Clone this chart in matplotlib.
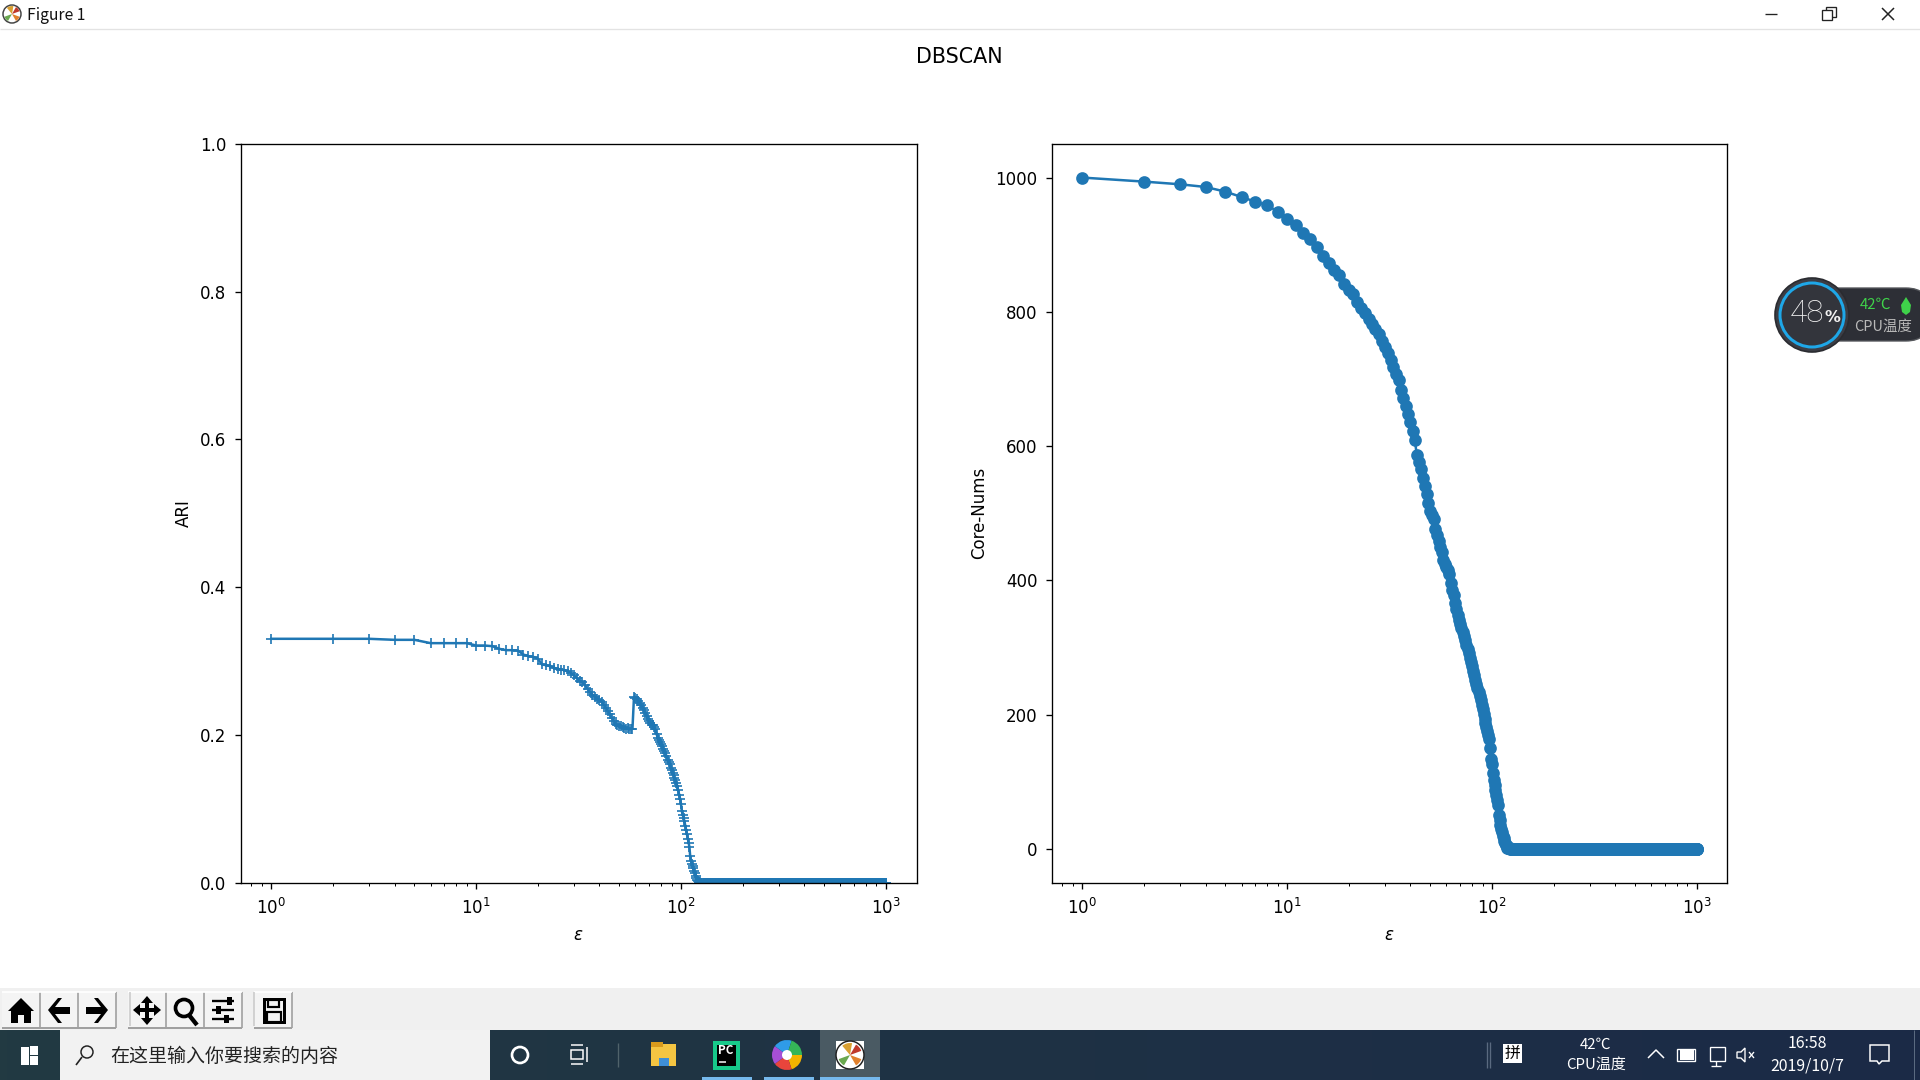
import numpy as np
import matplotlib
matplotlib.use("Agg")
import matplotlib.pyplot as plt
from matplotlib.patches import Rectangle, Circle, Polygon, FancyBboxPatch, Wedge

CJK = ['Noto Sans CJK SC', 'DejaVu Sans']

title = "DBSCAN"
x_label = r"$\epsilon$"
left_label = "ARI"
right_label = "Core-Nums"

# ARI for eps = 1, 2, 3, ...
ari_head = [
    .330, .330, .330, .3286, .3286, .3241, .3241, .3241, .3241, .3209,
    .3209, .3200, .3164, .3146, .3146, .3141, .3087, .3065, .3056, .3033,
    .2952, .2943, .2929, .2907, .2893, .2884, .2875, .2861, .2839, .2803,
    .2771, .2735, .2713, .2676, .2622, .2577, .2545, .2514, .2487, .2469,
    .2442, .2410, .2365, .2320, .2275, .2230, .2184, .2153, .2126, .2117,
    .2117, .2108, .2094, .2081, .2094, .2072, .2081, .2081, .2514, .2500,
    .2487, .2455, .2424, .2397, .2365, .2333, .2297, .2252, .2216, .2184,
    .2162, .2139, .2126, .2108, .2072, .2013, .1959, .1923, .1900, .1873,
    .1846, .1814, .1787, .1756, .1710, .1665, .1634, .1598, .1552, .1521,
    .1485, .1453, .1417, .1385, .1349, .1304, .1250, .1191, .1137, .1069,
    .0966, .0920, .0875, .0830, .0771, .0717, .0650, .0591, .0537, .0483,
    .0356, .0288, .0257, .0221, .0194, .0162, .0131, .0094, .0067, .0040,
    .0018, .0005,
]
# Core point counts for eps = 1, 2, 3, ...
core_head = [
    1000, 994, 990, 986, 979, 971, 964, 959, 949, 938,
    930, 917, 908, 897, 883, 873, 862, 855, 842, 833,
    826, 815, 806, 798, 790, 782, 775, 767, 757, 748,
    738, 728, 718, 708, 698, 684, 672, 660, 648, 636,
    622, 609, 587, 577, 566, 552, 541, 528, 516, 504,
    497, 491, 477, 468, 458, 449, 442, 430, 425, 420,
    415, 410, 396, 385, 378, 366, 357, 349, 341, 335,
    329, 323, 317, 311, 304, 298, 292, 285, 278, 272,
    265, 259, 252, 246, 240, 234, 228, 222, 215, 208,
    201, 194, 187, 181, 175, 169, 163, 150, 134, 127,
    113, 103, 95, 88, 80, 73, 66, 50, 43, 36,
    30, 25, 20, 16, 12, 9, 6, 4, 2, 1, 1, 1,
]
eps_last = 1000
epsilons = list(range(1, eps_last + 1))
ari = ari_head + [0.0] * (eps_last - len(ari_head))
core = core_head + [0] * (eps_last - len(core_head))

W, H = 1920, 1080
fig = plt.figure(figsize=(16, 9), dpi=120, facecolor='white')


def axpos(l, r, t, b):
    return [l / W, 1 - b / H, (r - l) / W, (b - t) / H]


ax1 = fig.add_axes(axpos(240.5, 916.5, 144, 882.5))
ax1.plot(epsilons, ari, marker='+')
ax1.set_xscale('log')
ax1.set_ylim(0, 1)
ax1.set_xlabel(x_label, labelpad=5)
ax1.set_ylabel(left_label)

ax2 = fig.add_axes(axpos(1051.5, 1727.5, 144, 882.5))
ax2.plot(epsilons, core, marker='o', markersize=6.6)
ax2.set_xscale('log')
ax2.set_xlabel(x_label, labelpad=5)
ax2.set_ylabel(right_label)

for a in (ax1, ax2):
    a.tick_params(axis='y', which='major', pad=5)
    a.tick_params(axis='x', which='major', pad=5.5)

fig.text(959 / W, 1 - 57 / H, title, ha='center', va='center', fontsize=12.4)

# ---- window chrome drawn on a full-figure overlay in pixel coordinates ----
ov = fig.add_axes([0, 0, 1, 1], zorder=5)
ov.set_xlim(0, W)
ov.set_ylim(H, 0)
ov.axis('off')
ov.patch.set_alpha(0)


def rect(x, y, w, h, c, **k):
    ov.add_patch(Rectangle((x, y), w, h, facecolor=c, edgecolor=k.pop('ec', 'none'), **k))


def poly(pts, c='black', **k):
    ov.add_patch(Polygon(pts, closed=True, facecolor=c, edgecolor=k.pop('ec', 'none'), **k))


def line(xs, ys, c='black', lw=1.0):
    ov.plot(xs, ys, color=c, lw=lw, solid_capstyle='butt')


def txt(x, y, s, size=9, c='black', **k):
    ov.text(x, y, s, fontsize=size, color=c, ha=k.pop('ha', 'center'), va='center',
            family=CJK, **k)


# title bar
line([0, W], [29, 29], '#e3e3e3', 0.8)
ov.add_patch(Circle((12, 14), 9, facecolor='white', edgecolor='#444444', lw=0.9))
for a1, a2, col in [(20, 60, '#e0802c'), (120, 160, '#6aa84f'), (230, 280, '#d9a032'), (300, 340, '#c0392b')]:
    ov.add_patch(Wedge((12, 14), 8, a1, a2, facecolor=col))
txt(27, 15, "Figure 1", 9.4, '#111111', ha='left')
line([1765, 1777], [14, 14], '#222222', 0.8)
rect(1826, 7, 10, 10, 'none', ec='#222222', lw=0.8)
rect(1822, 10, 10, 10, 'white', ec='#222222', lw=0.8)
line([1882, 1894], [8, 20], '#222222', 0.9)
line([1882, 1894], [20, 8], '#222222', 0.9)

# toolbar
rect(0, 988, W, 42, '#f0f0f0')
for bx in [21, 59, 97, 147, 185, 223, 273]:
    rect(bx - 19, 992, 38, 36, '#f4f4f4', ec='none')
    line([bx - 19, bx + 19], [1028, 1028], '#a0a0a0', 1.2)
    line([bx + 19, bx + 19], [992, 1028], '#a0a0a0', 1.0)
    line([bx - 19, bx + 19], [992, 992], '#ffffff', 1.0)
line([130, 130], [992, 1026], '#c8c8c8', 0.9)
line([254, 254], [992, 1026], '#c8c8c8', 0.9)
# home
poly([(21, 998), (34, 1011), (31, 1011), (31, 1023), (24, 1023), (24, 1015), (18, 1015), (18, 1023),
      (11, 1023), (11, 1011), (8, 1011)])
# back / forward
poly([(48, 1010), (58, 998), (62, 998), (55, 1007), (70, 1007), (70, 1014), (55, 1014), (62, 1023), (58, 1023)])
poly([(108, 1010), (98, 998), (94, 998), (101, 1007), (86, 1007), (86, 1014), (101, 1014), (94, 1023), (98, 1023)])
# pan
poly([(147, 996), (153, 1003), (149, 1003), (149, 1008), (154, 1008), (154, 1004), (161, 1010), (154, 1016),
      (154, 1012), (149, 1012), (149, 1018), (153, 1018), (147, 1025), (141, 1018), (145, 1018), (145, 1012),
      (140, 1012), (140, 1016), (133, 1010), (140, 1004), (140, 1008), (145, 1008), (145, 1003), (141, 1003)])
# zoom
ov.add_patch(Circle((184, 1008), 8.5, facecolor='none', edgecolor='black', lw=2.2))
line([189, 197], [1015, 1025], 'black', 2.6)
# sliders
for yy, xk in [(1001, 229), (1010, 218), (1019, 226)]:
    line([212, 234], [yy, yy], 'black', 1.4)
    rect(xk - 2.5, yy - 4, 5, 8, 'black')
# save
rect(264, 999, 20, 23, 'none', ec='black', lw=1.8)
rect(268, 1000, 11, 7, 'none', ec='black', lw=1.3)
rect(267, 1012, 14, 10, 'none', ec='black', lw=1.3)

# taskbar
grad = np.linspace(0, 1, 256)[None, :, None]
c0 = np.array([0x22, 0x3a, 0x42]) / 255
c1 = np.array([0x1b, 0x2a, 0x47]) / 255
ov.imshow(c0 + (c1 - c0) * grad, extent=(0, W, 1080, 1030), aspect='auto', zorder=0.5)
ov.set_xlim(0, W)
ov.set_ylim(H, 0)
for (lx, ly) in [(21, 1047), (30, 1046), (21, 1056), (30, 1056)]:
    rect(lx, ly, 8, 8.5, 'white')
rect(60, 1030, 430, 50, '#f2f2f2')
ov.add_patch(Circle((87, 1052), 6, facecolor='none', edgecolor='#222222', lw=0.9))
line([82, 76], [1057, 1065], '#222222', 1.0)
txt(110, 1056, "在这里输入你要搜索的内容", 11.4, '#222222', ha='left')
ov.add_patch(Circle((520, 1055), 8, facecolor='none', edgecolor='white', lw=1.6))
rect(571, 1050, 12, 9, 'none', ec='white', lw=0.9)
line([571, 583], [1045, 1045], 'white', 0.9)
line([571, 583], [1064, 1064], 'white', 0.9)
line([587, 587], [1047, 1062], 'white', 0.9)
line([618, 618], [1043, 1067], '#50636b', 0.8)
# folder
rect(651, 1044, 25, 22, '#f5c542')
rect(651, 1042, 12, 5, '#d99a1c')
rect(659, 1058, 10, 8, '#3f8fd6')
# PC icon
rect(713, 1041, 27, 29, '#17c98a')
rect(717, 1045, 19, 21, '#000000')
txt(726, 1051, "PC", 7, 'white', fontweight='bold')
line([719, 726], [1062, 1062], 'white', 0.9)
# colour wheel
for a1, a2, col in [(0, 72, '#f4b400'), (72, 144, '#e8453c'), (144, 216, '#a64fd6'),
                    (216, 288, '#2f9be8'), (288, 360, '#35b558')]:
    ov.add_patch(Wedge((787, 1055), 15, a1, a2, facecolor=col))
ov.add_patch(Circle((787, 1055), 5, facecolor='white'))
# active app
rect(820, 1030, 60, 50, '#4a5a63', zorder=1)
rect(836, 1041, 28, 28, 'white', zorder=2)
ov.add_patch(Circle((850, 1055), 14, facecolor='white', edgecolor='#222222', lw=0.9, zorder=2))
for a1, a2, col in [(20, 60, '#e0802c'), (120, 160, '#6aa84f'), (230, 280, '#d9a032'), (300, 340, '#c0392b')]:
    ov.add_patch(Wedge((850, 1055), 12, a1, a2, facecolor=col, zorder=3))
for bx, bw in [(702, 50), (764, 50), (820, 60)]:
    rect(bx, 1077, bw, 3, '#76b9ed', zorder=4)
# tray
line([1487, 1487], [1042, 1068], '#5a6a80', 0.8)
line([1490, 1490], [1042, 1068], '#5a6a80', 0.8)
rect(1503, 1044, 19, 19, 'white')
txt(1512.5, 1053.5, "拼", 9.5, 'black')
txt(1595, 1045, "42℃", 9, 'white')
txt(1596, 1065, "CPU温度", 9, 'white')
line([1648, 1656, 1664], [1058, 1050, 1058], 'white', 0.9)
rect(1680, 1050, 14, 10, 'white')
rect(1677, 1049, 18, 12, 'none', ec='white', lw=0.8)
rect(1710, 1047, 15, 14, 'none', ec='white', lw=0.8)
line([1716, 1716], [1061, 1066], 'white', 0.8)
line([1711, 1721], [1066, 1066], 'white', 0.8)
poly([(1737, 1052), (1741, 1052), (1745, 1048), (1745, 1062), (1741, 1058), (1737, 1058)], 'none', ec='white', lw=0.8)
line([1749, 1754], [1052, 1058], 'white', 0.8)
line([1749, 1754], [1058, 1052], 'white', 0.8)
txt(1807, 1044, "16:58", 9.5, 'white')
txt(1807, 1066, "2019/10/7", 9.5, 'white')
poly([(1870, 1045), (1889, 1045), (1889, 1061), (1882, 1061), (1879, 1064), (1877, 1061), (1870, 1061)],
     'none', ec='white', lw=0.9)
line([1914, 1914], [1030, 1080], '#5a6a80', 0.6)

# CPU widget
ov.add_patch(FancyBboxPatch((1815, 288), 115, 53, boxstyle="round,pad=0,rounding_size=24",
                            facecolor='#2d2f36', edgecolor='#55575c', lw=0.8))
ov.add_patch(Circle((1812, 315), 37, facecolor='#3b3d45', edgecolor='#2a2b30', lw=1))
ov.add_patch(Circle((1812, 315), 32, facecolor='#33353c', edgecolor='#1ea7e8', lw=1.8))
ov.text(1807, 313, "48", fontsize=19, color='#f2f2f2', ha='center', va='center',
        family='Roboto', fontweight='light')
ov.text(1832, 318, "%", fontsize=9.5, color='#f2f2f2', ha='center', va='center', fontweight='bold')
txt(1875, 305, "42℃", 9, '#3fd24a')
poly([(1906, 297), (1911, 305), (1910, 312), (1906, 315), (1902, 312), (1901, 305)], '#3fd24a')
txt(1883, 327, "CPU温度", 8.7, '#b9b9b9')

fig.savefig("out.png", dpi=120)
